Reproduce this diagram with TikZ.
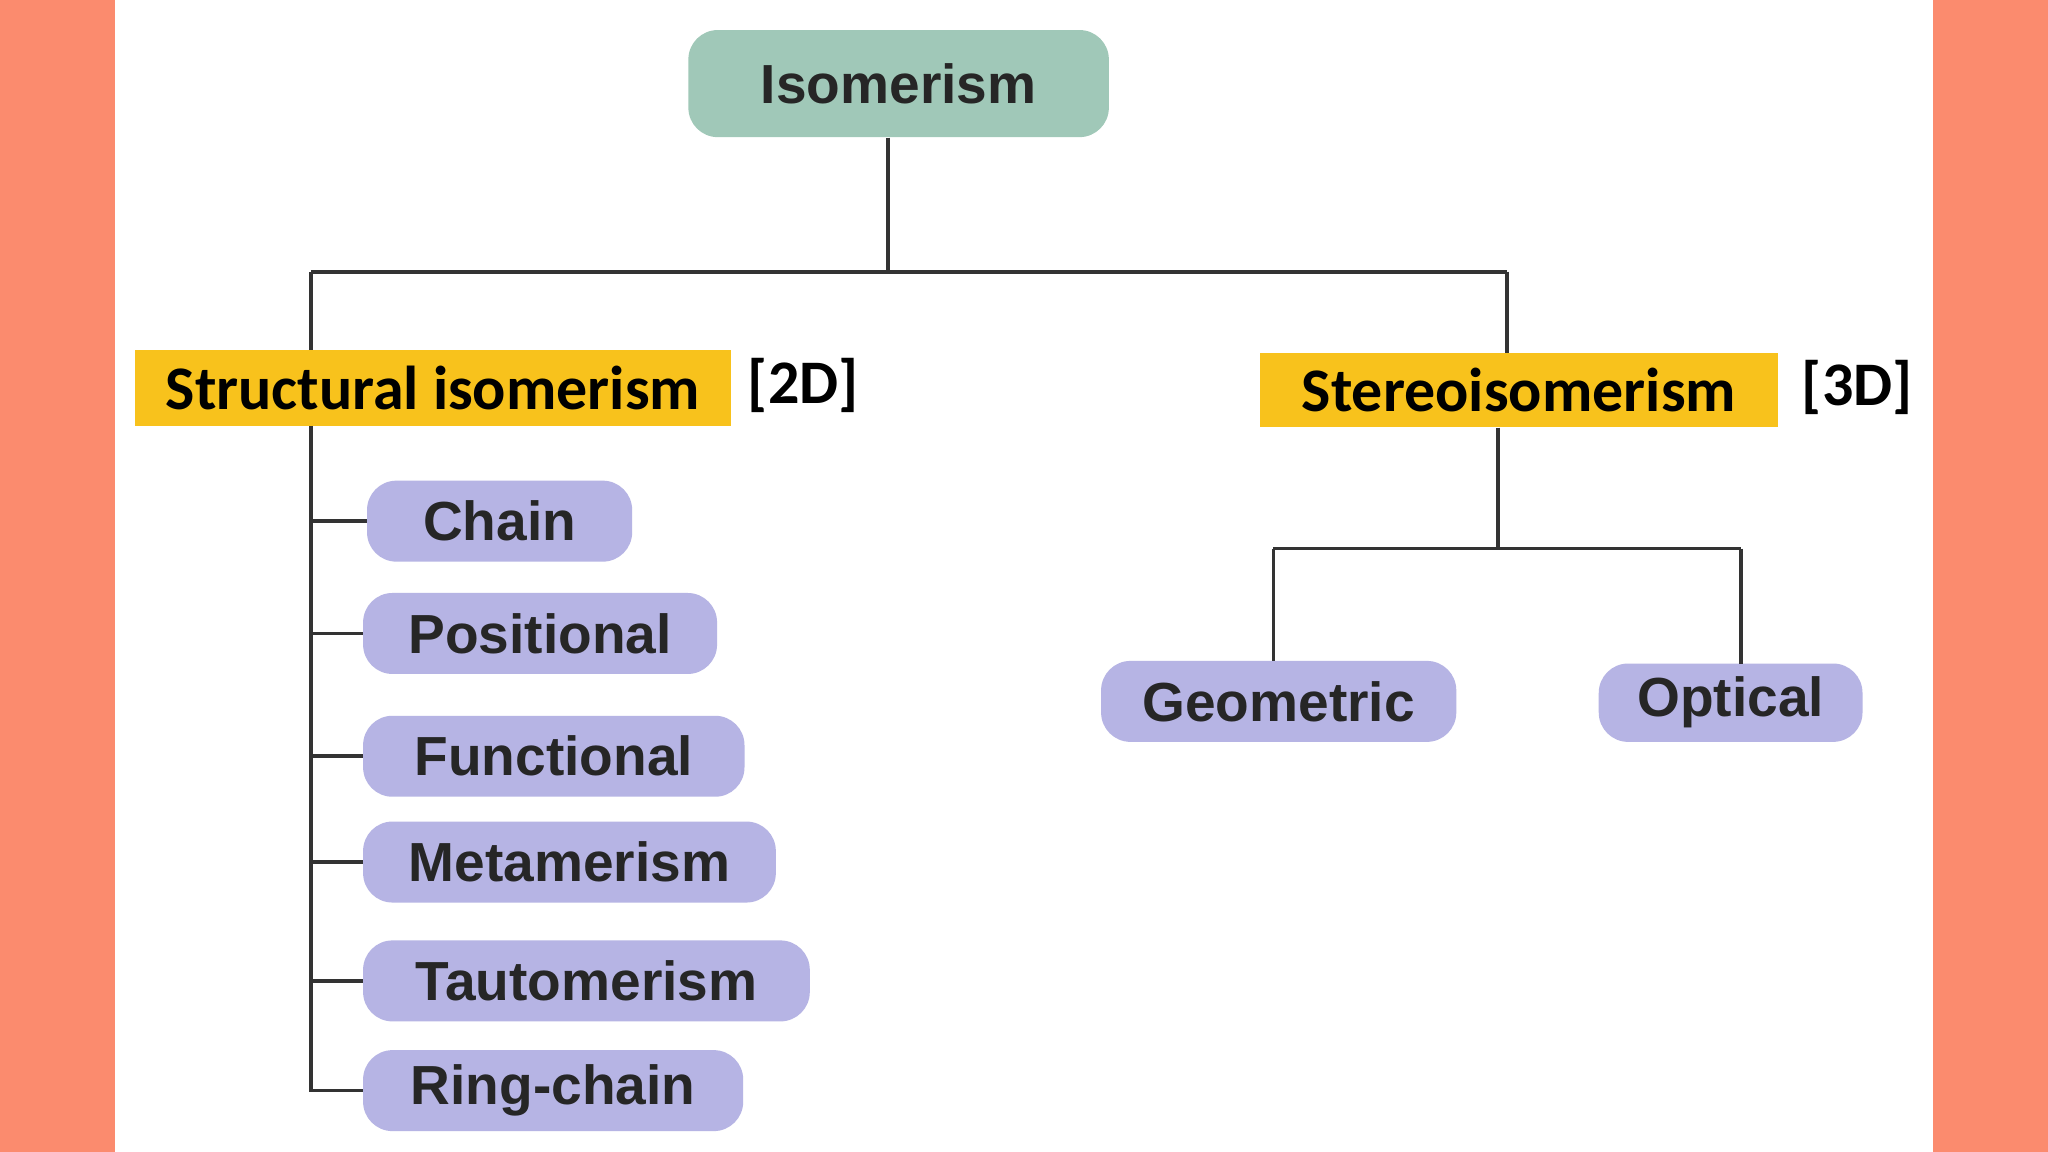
\documentclass[tikz,border=0pt]{standalone}
\usepackage{fontspec}
\setmainfont{Liberation Sans}
\newfontfamily\calib{Carlito}
\definecolor{side}{HTML}{FB8B6E}
\definecolor{teal}{HTML}{A0C8B8}
\definecolor{lav}{HTML}{B6B4E4}
\definecolor{yel}{HTML}{F8C21C}
\begin{document}
\begin{tikzpicture}[x=0.02cm,y=-0.02cm,
  pill/.style={fill=lav,rounded corners=0.45cm,inner sep=0pt,font=\fontsize{24}{28}\selectfont\bfseries,text=black!85},
  ybox/.style={fill=yel,inner sep=0pt,font=\calib\fontsize{27}{30}\selectfont\bfseries},
  lab/.style={inner sep=0pt,font=\calib\fontsize{27}{30}\selectfont\bfseries},
  ln/.style={line width=1.6pt,black!80}]
\useasboundingbox (0,0) rectangle (1568,882);
\fill[side] (0,0) rectangle (88,882);
\fill[side] (1480,0) rectangle (1568,882);
\fill[white] (88,0) rectangle (1480,882);
\node[pill,fill=teal,minimum width=6.44cm,minimum height=1.64cm] (iso) at (688,64) {Isomerism};
\node[ybox,minimum width=9.14cm,minimum height=1.16cm] (str) at (331.5,297) {Structural isomerism};
\node[lab] (d2) at (615,295) {[2D]};
\node[ybox,minimum width=7.92cm,minimum height=1.14cm] (ste) at (1163,298.5) {Stereoisomerism};
\node[lab] (d3) at (1422,297) {[3D]};
\coordinate (top) at (680,208);
\coordinate (tl) at (238,208);
\coordinate (tr) at (1154,208);
\draw[ln] (iso.south -| top) -- (top);
\draw[ln] (tl) -- (tr);
\draw[ln] (tl) -- (238,268);
\draw[ln] (tr) -- (1154,270);
\foreach \n/\t/\a/\b/\ya/\yb in {c/Chain/281/484/368/430, p/Positional/278/549/454/516, f/Functional/278/570/548/610, m/Metamerism/278/594/629/691, t/Tautomerism/278/620/720/782, r/Ring-chain/278/569/804/866}{
  \node[pill,minimum width={(\b-\a)*0.02cm},minimum height={(\yb-\ya)*0.02cm}] (\n) at ({(\a+\b)/2},{(\ya+\yb)/2}) {\t};
  \draw[ln] (238,{(\ya+\yb)/2}) -- (\n.west);
}
\draw[ln] (238,326) -- (238,835) -- (r.west);
\node[pill,minimum width=5.44cm,minimum height=1.24cm] (geo) at (979,537) {Geometric};
\node[pill,minimum width=4.04cm,minimum height=1.2cm] (opt) at (1325,538) {Optical};
\coordinate (sj) at (1147,420);
\draw[ln] (ste.south -| sj) -- (sj);
\draw[ln] (975,420) -- (1333,420);
\draw[ln] (975,420) -- (975,506);
\draw[ln] (1333,420) -- (1333,508);
\end{tikzpicture}
\end{document}
